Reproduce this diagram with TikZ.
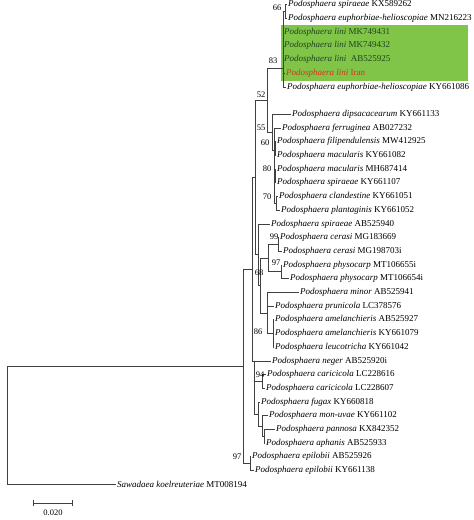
\documentclass[tikz,border=0pt]{standalone}
\usepackage{fontspec}
\setmainfont{Liberation Serif}
\definecolor{xanhla}{RGB}{128,196,72}
\definecolor{xanhdam}{RGB}{30,70,30}
\definecolor{doIran}{RGB}{210,55,25}
\newcommand{\taxon}[2]{\textit{#1} #2}

\begin{document}
\begin{tikzpicture}[x=1pt, y=-1pt, >=latex,
    nhanh/.style={draw=black!75, line width=0.7pt},
    la/.style={anchor=west, inner sep=1pt, font=\fontsize{9}{10}\selectfont},
    bs/.style={anchor=east, inner sep=0.5pt, font=\fontsize{8.5}{9}\selectfont}]
    \useasboundingbox (0,0) rectangle (474,520);

    % Nền xanh cho nhóm P. lini
    \fill[xanhla] (281,25) rectangle (468,81);

    % Các lá
    \node[la] (spiKX) at (287,4.7) {\taxon{Podosphaera spiraeae}{KX589262}};
    \node[la] (eupMN) at (287,18.4) {\taxon{Podosphaera euphorbiae-helioscopiae}{MN216223}};
    \node[la, text=xanhdam] (liniA) at (283,32.1) {\taxon{Podosphaera lini}{MK749431}};
    \node[la, text=xanhdam] (liniB) at (283,45.8) {\taxon{Podosphaera lini}{MK749432}};
    \node[la, text=xanhdam] (liniC) at (283,59.5) {\taxon{Podosphaera lini}{\ AB525925}};
    \node[la, text=doIran] (liniIran) at (285,73.2) {\taxon{Podosphaera lini}{Iran}};
    \node[la] (eupKY) at (286,86.9) {\taxon{Podosphaera euphorbiae-helioscopiae}{KY661086}};
    \node[la] (dipKY) at (291,114.3) {\taxon{Podosphaera dipsacacearum}{KY661133}};
    \node[la] (ferAB) at (281,128) {\taxon{Podosphaera ferruginea}{AB027232}};
    \node[la] (filMW) at (276,141.7) {\taxon{Podosphaera filipendulensis}{MW412925}};
    \node[la] (macKY) at (276,155.4) {\taxon{Podosphaera macularis}{KY661082}};
    \node[la] (macMH) at (276,169.1) {\taxon{Podosphaera macularis}{MH687414}};
    \node[la] (spiKY) at (276,182.8) {\taxon{Podosphaera spiraeae}{KY661107}};
    \node[la] (claKY) at (278,196.5) {\taxon{Podosphaera clandestine}{KY661051}};
    \node[la] (plaKY) at (280,210.2) {\taxon{Podosphaera plantaginis}{KY661052}};
    \node[la] (spiAB) at (270,223.9) {\taxon{Podosphaera spiraeae}{AB525940}};
    \node[la] (cerMGa) at (279,237.6) {\taxon{Podosphaera cerasi}{MG183669}};
    \node[la] (cerMGb) at (282,251.3) {\taxon{Podosphaera cerasi}{MG198703i}};
    \node[la] (phyMTa) at (282,265) {\taxon{Podosphaera physocarp}{MT106655i}};
    \node[la] (phyMTb) at (289,278.7) {\taxon{Podosphaera physocarp}{MT106654i}};
    \node[la] (minAB) at (299,292.4) {\taxon{Podosphaera minor}{AB525941}};
    \node[la] (pruLC) at (274,306.1) {\taxon{Podosphaera prunicola}{LC378576}};
    \node[la] (ameAB) at (274,319.8) {\taxon{Podosphaera amelanchieris}{AB525927}};
    \node[la] (ameKY) at (274,333.5) {\taxon{Podosphaera amelanchieris}{KY661079}};
    \node[la] (leuKY) at (274,347.2) {\taxon{Podosphaera leucotricha}{KY661042}};
    \node[la] (negAB) at (271,360.9) {\taxon{Podosphaera neger}{AB525920i}};
    \node[la] (carLCa) at (266,374.6) {\taxon{Podosphaera caricicola}{LC228616}};
    \node[la] (carLCb) at (265,388.3) {\taxon{Podosphaera caricicola}{LC228607}};
    \node[la] (fugKY) at (260,402) {\taxon{Podosphaera fugax}{KY660818}};
    \node[la] (monKY) at (268,415.7) {\taxon{Podosphaera mon-uvae}{KY661102}};
    \node[la] (panKX) at (275,429.4) {\taxon{Podosphaera pannosa}{KX842352}};
    \node[la] (aphAB) at (265,443.1) {\taxon{Podosphaera aphanis}{AB525933}};
    \node[la] (epiAB) at (251,456.8) {\taxon{Podosphaera epilobii}{AB525926}};
    \node[la] (epiKY) at (254,470.5) {\taxon{Podosphaera epilobii}{KY661138}};
    \node[la] (sawMT) at (116,484.2) {\taxon{Sawadaea koelreuteriae}{MT008194}};

    % Các nút trong
    \coordinate (nM) at (285,11.5);
    \coordinate (nL) at (283,68);
    \coordinate (nA) at (267,100);
    \coordinate (nB) at (272,132);
    \coordinate (nC) at (274,150);
    \coordinate (n60) at (275,148.5);
    \coordinate (n80) at (275,176);
    \coordinate (n70) at (276.5,203.4);
    \coordinate (nE) at (255,177);
    \coordinate (nG) at (258,254.7);
    \coordinate (nF) at (260,285.5);
    \coordinate (nH) at (268,258);
    \coordinate (n99) at (278,244.5);
    \coordinate (n97) at (281,271.8);
    \coordinate (nI) at (267,313);
    \coordinate (n86) at (273,333.5);
    \coordinate (nV) at (252,269.5);
    \coordinate (nW) at (254,360.9);
    \coordinate (nK) at (262,381.5);
    \coordinate (nQ) at (258,414);
    \coordinate (nQb) at (262,426);
    \coordinate (nQc) at (264,436.3);
    \coordinate (nX) at (250,463.7);
    \coordinate (nU) at (243,366.6);
    \coordinate (nR) at (7,425);

    % Các nhánh
    \draw[nhanh] (nM) |- (spiKX.west) (nM) |- (eupMN.west);
    \draw[nhanh] (nL) |- (nM) (nL) |- (liniA.west) (nL) |- (liniB.west)
        (nL) |- (liniC.west) (nL) |- (liniIran.west) (nL) |- (eupKY.west);
    \draw[nhanh] (nA) |- (nL) (nA) |- (nB);
    \draw[nhanh] (nB) |- (dipKY.west) (nB) |- (nC);
    \draw[nhanh] (nC) |- (ferAB.west) (nC) |- (n60) (nC) |- (n80) (nC) |- (n70);
    \draw[nhanh] (n60) |- (filMW.west) (n60) |- (macKY.west);
    \draw[nhanh] (n80) |- (macMH.west) (n80) |- (spiKY.west);
    \draw[nhanh] (n70) |- (claKY.west) (n70) |- (plaKY.west);
    \draw[nhanh] (nE) |- (nA) (nE) |- (nG);
    \draw[nhanh] (nG) |- (spiAB.west) (nG) |- (nF);
    \draw[nhanh] (nF) |- (nH) (nF) |- (nI);
    \draw[nhanh] (nH) |- (n99) (nH) |- (n97);
    \draw[nhanh] (n99) |- (cerMGa.west) (n99) |- (cerMGb.west);
    \draw[nhanh] (n97) |- (phyMTa.west) (n97) |- (phyMTb.west);
    \draw[nhanh] (nI) |- (minAB.west) (nI) |- (pruLC.west) (nI) |- (n86);
    \draw[nhanh] (n86) |- (ameAB.west) (n86) |- (ameKY.west) (n86) |- (leuKY.west);
    \draw[nhanh] (nV) |- (nE) (nV) |- (nW);
    \draw[nhanh] (nW) |- (negAB.west) (nW) |- (nK) (nW) |- (nQ);
    \draw[nhanh] (nK) |- (carLCa.west) (nK) |- (carLCb.west);
    \draw[nhanh] (nQ) |- (fugKY.west) (nQ) |- (nQb);
    \draw[nhanh] (nQb) |- (monKY.west) (nQb) |- (nQc);
    \draw[nhanh] (nQc) |- (panKX.west) (nQc) |- (aphAB.west);
    \draw[nhanh] (nX) |- (epiAB.west) (nX) |- (epiKY.west);
    \draw[nhanh] (nU) |- (nV) (nU) |- (nX);
    \draw[nhanh] (nR) |- (nU) (nR) |- (sawMT.west);

    % Giá trị bootstrap
    \node[bs] (b66) at (282,8) {66};
    \node[bs] (b83) at (278,61) {83};
    \node[bs] (b52) at (266,95) {52};
    \node[bs] (b55) at (266,128) {55};
    \node[bs] (b60) at (270,143) {60};
    \node[bs] (b80) at (272,169) {80};
    \node[bs] (b70) at (272,197) {70};
    \node[bs] (b99) at (279,237) {99};
    \node[bs] (b97a) at (281,263) {97};
    \node[bs] (b68) at (264,273) {68};
    \node[bs] (b86) at (263,332) {86};
    \node[bs] (b94) at (265,375) {94};
    \node[bs] (b97b) at (242,457) {97};

    % Thước tỉ lệ
    \coordinate (thuocA) at (33,503);
    \coordinate (thuocB) at (73,503);
    \draw[nhanh, |-|] (thuocA) -- (thuocB)
        node[midway, below=3pt, font=\fontsize{8.5}{9}\selectfont] (thuocNhan) {0.020};
\end{tikzpicture}
\end{document}
